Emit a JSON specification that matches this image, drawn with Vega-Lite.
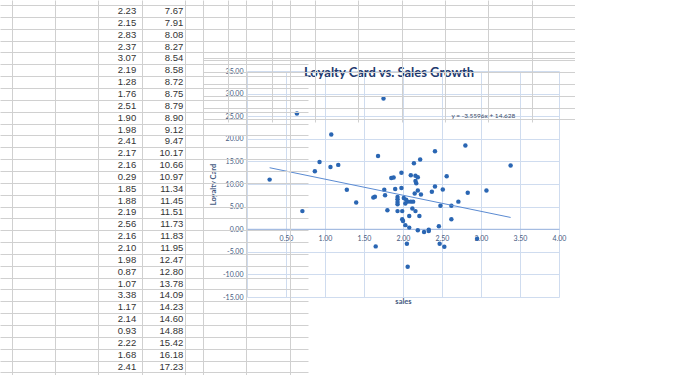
{
  "$schema": "https://vega.github.io/schema/vega-lite/v6.json",
  "padding": 0,
  "background": "white",
  "spacing": 0,
  "bounds": "flush",
  "config": {"view": {"stroke": null}, "concat": {"spacing": 0}},
  "datasets": {
    "table": [
      {"row": 0, "sales": "2.23", "card": "7.67"},
      {"row": 1, "sales": "2.15", "card": "7.91"},
      {"row": 2, "sales": "2.83", "card": "8.08"},
      {"row": 3, "sales": "2.37", "card": "8.27"},
      {"row": 4, "sales": "3.07", "card": "8.54"},
      {"row": 5, "sales": "2.19", "card": "8.58"},
      {"row": 6, "sales": "1.28", "card": "8.72"},
      {"row": 7, "sales": "1.76", "card": "8.75"},
      {"row": 8, "sales": "2.51", "card": "8.79"},
      {"row": 9, "sales": "1.90", "card": "8.90"},
      {"row": 10, "sales": "1.98", "card": "9.12"},
      {"row": 11, "sales": "2.41", "card": "9.47"},
      {"row": 12, "sales": "2.17", "card": "10.17"},
      {"row": 13, "sales": "2.16", "card": "10.66"},
      {"row": 14, "sales": "0.29", "card": "10.97"},
      {"row": 15, "sales": "1.85", "card": "11.34"},
      {"row": 16, "sales": "1.88", "card": "11.45"},
      {"row": 17, "sales": "2.19", "card": "11.51"},
      {"row": 18, "sales": "2.56", "card": "11.73"},
      {"row": 19, "sales": "2.16", "card": "11.83"},
      {"row": 20, "sales": "2.10", "card": "11.95"},
      {"row": 21, "sales": "1.98", "card": "12.47"},
      {"row": 22, "sales": "0.87", "card": "12.80"},
      {"row": 23, "sales": "1.07", "card": "13.78"},
      {"row": 24, "sales": "3.38", "card": "14.09"},
      {"row": 25, "sales": "1.17", "card": "14.23"},
      {"row": 26, "sales": "2.14", "card": "14.60"},
      {"row": 27, "sales": "0.93", "card": "14.88"},
      {"row": 28, "sales": "2.22", "card": "15.42"},
      {"row": 29, "sales": "1.68", "card": "16.18"},
      {"row": 30, "sales": "2.41", "card": "17.23"}
    ],
    "points": [
      {"sales": 2.23, "card": 7.67}, {"sales": 2.15, "card": 7.91}, {"sales": 2.83, "card": 8.08},
      {"sales": 2.37, "card": 8.27}, {"sales": 3.07, "card": 8.54}, {"sales": 2.19, "card": 8.58},
      {"sales": 1.28, "card": 8.72}, {"sales": 1.76, "card": 8.75}, {"sales": 2.51, "card": 8.79},
      {"sales": 1.90, "card": 8.90}, {"sales": 1.98, "card": 9.12}, {"sales": 2.41, "card": 9.47},
      {"sales": 2.17, "card": 10.17}, {"sales": 2.16, "card": 10.66}, {"sales": 0.29, "card": 10.97},
      {"sales": 1.85, "card": 11.34}, {"sales": 1.88, "card": 11.45}, {"sales": 2.19, "card": 11.51},
      {"sales": 2.56, "card": 11.73}, {"sales": 2.16, "card": 11.83}, {"sales": 2.10, "card": 11.95},
      {"sales": 1.98, "card": 12.47}, {"sales": 0.87, "card": 12.80}, {"sales": 1.07, "card": 13.78},
      {"sales": 3.38, "card": 14.09}, {"sales": 1.17, "card": 14.23}, {"sales": 2.14, "card": 14.60},
      {"sales": 0.93, "card": 14.88}, {"sales": 2.22, "card": 15.42}, {"sales": 1.68, "card": 16.18},
      {"sales": 2.41, "card": 17.23},
      {"sales": 2.80, "card": 18.5}, {"sales": 1.08, "card": 20.93}, {"sales": 0.64, "card": 25.6},
      {"sales": 1.75, "card": 28.9},
      {"sales": 1.77, "card": 7.53}, {"sales": 1.64, "card": 7.2}, {"sales": 1.62, "card": 7.0},
      {"sales": 1.40, "card": 5.9}, {"sales": 0.71, "card": 4.0}, {"sales": 1.65, "card": -3.8},
      {"sales": 1.80, "card": 4.2}, {"sales": 1.93, "card": 7.1}, {"sales": 1.93, "card": 6.6},
      {"sales": 1.93, "card": 6.0}, {"sales": 1.93, "card": 5.5}, {"sales": 1.93, "card": 4.0},
      {"sales": 1.99, "card": 4.0}, {"sales": 2.01, "card": 6.9}, {"sales": 2.04, "card": 6.5},
      {"sales": 2.06, "card": 6.1}, {"sales": 2.10, "card": 6.1}, {"sales": 2.13, "card": 6.1},
      {"sales": 2.03, "card": 5.7}, {"sales": 2.12, "card": 4.6}, {"sales": 2.16, "card": 4.0},
      {"sales": 2.08, "card": 2.9}, {"sales": 2.21, "card": 2.9}, {"sales": 1.99, "card": 2.2},
      {"sales": 2.00, "card": 1.8}, {"sales": 2.03, "card": 0.9}, {"sales": 2.08, "card": 0.35},
      {"sales": 2.19, "card": -0.25}, {"sales": 2.27, "card": -0.6}, {"sales": 2.33, "card": -0.1},
      {"sales": 2.33, "card": -0.4}, {"sales": 2.46, "card": 0.64}, {"sales": 2.47, "card": -3.2},
      {"sales": 2.53, "card": -3.9}, {"sales": 2.05, "card": -3.2}, {"sales": 2.06, "card": -8.3},
      {"sales": 2.48, "card": 5.2}, {"sales": 2.62, "card": 5.2}, {"sales": 2.62, "card": 2.2},
      {"sales": 2.71, "card": 6.1}, {"sales": 2.95, "card": -2.1}
    ],
    "trend": [{"sales": 0.29, "card": 13.6}, {"sales": 3.38, "card": 2.6}],
    "eq": [{"sales": 3.03, "card": 25.0, "label": "y = -3.5596x + 14.628"}],
    "empty": []
  },
  "hconcat": [
    {
      "width": 203,
      "height": 375,
      "data": {"name": "table"},
      "encoding": {
        "y": {
          "field": "row", "type": "quantitative",
          "scale": {"domain": [-0.92827, 30.7173], "reverse": true, "nice": false, "zero": false},
          "axis": {"grid": true, "gridColor": "#d0d0d0", "labels": false, "ticks": false, "domain": false, "title": null, "tickCount": 100,
                   "values": [-0.5,0.5,1.5,2.5,3.5,4.5,5.5,6.5,7.5,8.5,9.5,10.5,11.5,12.5,13.5,14.5,15.5,16.5,17.5,18.5,19.5,20.5,21.5,22.5,23.5,24.5,25.5,26.5,27.5,28.5,29.5,30.5]}
        }
      },
      "layer": [
        {
          "mark": {"type": "text", "align": "right", "baseline": "middle", "dx": -5.5, "font": "Liberation Sans", "fontSize": 9.5, "color": "#333333"},
          "encoding": {
            "x": {"datum": 3, "type": "quantitative",
                  "scale": {"domain": [-0.27, 4.415], "nice": false, "zero": false},
                  "axis": {"grid": true, "gridColor": "#d0d0d0", "labels": false, "ticks": false, "domain": false, "title": null, "tickCount": 100, "values": [0,1,2,3,4]}},
            "text": {"field": "sales"}
          }
        },
        {
          "mark": {"type": "text", "align": "right", "baseline": "middle", "dx": -1.7, "font": "Liberation Sans", "fontSize": 9.5, "color": "#333333"},
          "encoding": {
            "x": {"datum": 4, "type": "quantitative"},
            "text": {"field": "card"}
          }
        }
      ]
    },
    {
      "spacing": 0,
      "bounds": "flush",
      "vconcat": [
        {
          "width": 372, "height": 58,
          "data": {"name": "empty"},
          "mark": {"type": "point", "opacity": 0},
          "encoding": {
            "x": {"field": "c", "type": "quantitative", "scale": {"domain": [4.415, 13.0], "nice": false, "zero": false},
                  "axis": {"grid": true, "gridColor": "#d0d0d0", "labels": false, "ticks": false, "domain": false, "title": null, "tickCount": 100, "values": [5,6,7,8,9,10,11,12]}},
            "y": {"field": "r", "type": "quantitative", "scale": {"domain": [-0.92827, 3.96624], "reverse": true, "nice": false, "zero": false},
                  "axis": {"grid": true, "gridColor": "#d0d0d0", "labels": false, "ticks": false, "domain": false, "title": null, "tickCount": 100, "values": [-0.5,0.5,1.5,2.5,3.5,3.96624]}}
          }
        },
        {
          "spacing": 0,
          "bounds": "flush",
          "hconcat": [
            {
              "width": 44, "height": 253,
              "data": {"name": "empty"},
              "mark": {"type": "point", "opacity": 0},
              "encoding": {
                "x": {"field": "c", "type": "quantitative", "scale": {"domain": [0, 1], "nice": false},
                      "axis": {"grid": true, "gridColor": "#d0d0d0", "labels": false, "ticks": false, "domain": false, "title": null, "values": [0]}}
              }
            },
            {
              "spacing": 0,
              "bounds": "flush",
              "vconcat": [
                {"width": 312, "height": 13, "data": {"name": "empty"}, "mark": {"type": "point", "opacity": 0}},
                {
                  "width": 312,
                  "height": 226,
                  "title": {"text": "Loyalty Card vs. Sales Growth", "font": "Lato", "fontSize": 13, "fontWeight": "bold", "color": "#1f3a6e",
                            "anchor": "middle", "frame": "group", "baseline": "middle", "dx": -14, "offset": -19},
                  "layer": [
                    {
                      "data": {"name": "points"},
                      "mark": {"type": "circle", "size": 20, "color": "#2a66b3", "opacity": 1},
                      "encoding": {
                        "x": {"field": "sales", "type": "quantitative",
                              "scale": {"domain": [0, 4], "nice": false, "zero": false},
                              "axis": {"values": [0,0.5,1,1.5,2,2.5,3,3.5,4], "tickCount": 100, "grid": true, "gridColor": "#cfdcef", "domain": true, "domainColor": "#9ab5de",
                                       "ticks": false, "labelExpr": "datum.value == 0 ? '' : format(datum.value, '.2f')",
                                       "labelFont": "Lato", "labelFontSize": 7, "labelColor": "#44597f", "labelPadding": 6,
                                       "labelFlush": false, "labelOverlap": false, "offset": -68.2,
                                       "title": "sales", "titleFont": "Lato", "titleFontSize": 7.5, "titleFontWeight": "bold", "titleColor": "#44597f",
                                       "titleY": 73, "titleBaseline": "middle"}},
                        "y": {"field": "card", "type": "quantitative",
                              "scale": {"domain": [-15, 35], "nice": false, "zero": false},
                              "axis": {"values": [-15,-10,-5,0,5,10,15,20,25,30,35], "tickCount": 100, "grid": true, "gridColor": "#cfdcef", "domain": false,
                                       "ticks": false, "labelExpr": "replace(format(datum.value, '.2f'), '\u2212', '-')",
                                       "labelFont": "Lato", "labelFontSize": 7, "labelColor": "#44597f", "labelPadding": 4,
                                       "labelOverlap": false,
                                       "title": "Loyalty Card", "titleFont": "Lato", "titleFontSize": 7.5, "titleFontWeight": "bold", "titleColor": "#44597f",
                                       "titleX": -34, "titleY": 113, "titleBaseline": "middle", "titleAlign": "center"}}
                      }
                    },
                    {
                      "data": {"name": "trend"},
                      "mark": {"type": "line", "color": "#5b8bd2", "strokeWidth": 1},
                      "encoding": {
                        "x": {"field": "sales", "type": "quantitative"},
                        "y": {"field": "card", "type": "quantitative"}
                      }
                    },
                    {
                      "data": {"name": "eq"},
                      "mark": {"type": "text", "font": "Lato", "fontSize": 6.5, "color": "#3a4a66", "align": "center", "baseline": "middle"},
                      "encoding": {
                        "x": {"field": "sales", "type": "quantitative"},
                        "y": {"field": "card", "type": "quantitative"},
                        "text": {"field": "label"}
                      }
                    }
                  ]
                },
                {"width": 312, "height": 14, "data": {"name": "empty"}, "mark": {"type": "point", "opacity": 0}}
              ]
            },
            {"width": 16, "height": 253, "data": {"name": "empty"}, "mark": {"type": "point", "opacity": 0}}
          ]
        },
        {
          "width": 372, "height": 64,
          "data": {"name": "empty"},
          "mark": {"type": "point", "opacity": 0},
          "encoding": {
            "x": {"field": "c", "type": "quantitative", "scale": {"domain": [4.415, 13.0], "nice": false, "zero": false},
                  "axis": {"grid": true, "gridColor": "#d0d0d0", "labels": false, "ticks": false, "domain": false, "title": null, "tickCount": 100, "values": [5,6,7,8,9,10,11,12]}},
            "y": {"field": "r", "type": "quantitative", "scale": {"domain": [25.3165, 30.7173], "reverse": true, "nice": false, "zero": false},
                  "axis": {"grid": true, "gridColor": "#d0d0d0", "labels": false, "ticks": false, "domain": false, "title": null, "tickCount": 100, "values": [25.3165,25.5,26.5,27.5,28.5,29.5,30.5]}}
          }
        }
      ]
    },
    {
      "width": 105, "height": 375,
      "data": {"name": "empty"},
      "mark": {"type": "point", "opacity": 0},
      "encoding": {
        "x": {"field": "c", "type": "quantitative", "scale": {"domain": [13.0, 15.423], "nice": false, "zero": false},
              "axis": {"grid": true, "gridColor": "#d0d0d0", "labels": false, "ticks": false, "domain": false, "title": null, "tickCount": 100, "values": [13,14,15]}},
        "y": {"field": "r", "type": "quantitative", "scale": {"domain": [-0.92827, 30.7173], "reverse": true, "nice": false, "zero": false},
              "axis": {"grid": true, "gridColor": "#d0d0d0", "labels": false, "ticks": false, "domain": false, "title": null, "tickCount": 100,
                       "values": [-0.5,0.5,1.5,2.5,3.5,4.5,5.5,6.5,7.5,8.5,9.5,10.5,11.5,12.5,13.5,14.5,15.5,16.5,17.5,18.5,19.5,20.5,21.5,22.5,23.5,24.5,25.5,26.5,27.5,28.5,29.5,30.5]}}
      }
    }
  ]
}
